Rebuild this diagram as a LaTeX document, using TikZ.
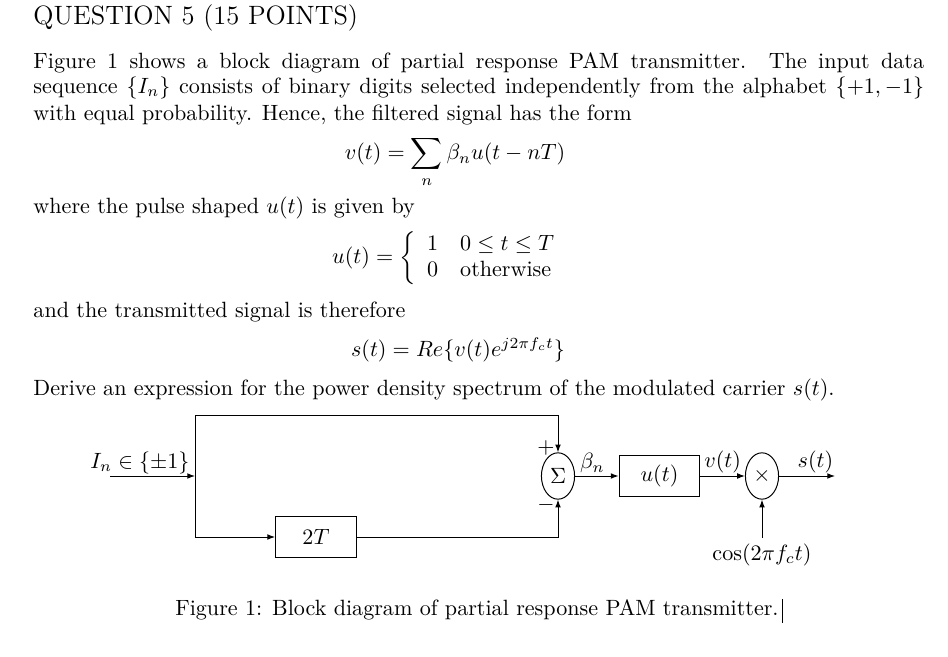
\documentclass[tikz,border=0pt]{standalone}
\usepackage{amsmath}
\usetikzlibrary{shapes.geometric,arrows.meta}
\begin{document}
\begin{tikzpicture}[x=0.4525pt,y=-0.4525pt,
  line width=0.45pt, >={Latex[length=3.5pt,width=2.6pt]},
  txt/.style={anchor=west,inner sep=0pt},
  blk/.style={draw,minimum width=36.6pt,minimum height=18.5pt,inner sep=0pt},
  op/.style={draw,ellipse,minimum width=15pt,minimum height=21pt,inner sep=0pt}]
\useasboundingbox (0,0) rectangle (948,657);
% text
\node[txt] (title) at (33,18) {\large QUESTION 5 (15 POINTS)};
\node[txt] (l1) at (33,63) {\makebox[403pt][s]{Figure 1 shows a block diagram of partial response PAM transmitter.\ \ The input data}};
\node[txt] (l2) at (33,88) {\makebox[403pt][s]{sequence $\{I_n\}$ consists of binary digits selected independently from the alphabet $\{+1,-1\}$}};
\node[txt] (l3) at (33,115) {with equal probability. Hence, the filtered signal has the form};
\node (e1) at (455,162) {$\displaystyle v(t)=\sum_n \beta_n u(t-nT)$};
\node[txt] (l4) at (33,208) {where the pulse shaped $u(t)$ is given by};
\node (e2) at (450,258) {$u(t)=\left\{\begin{array}{ll}1 & 0\le t\le T\\ 0 & \text{otherwise}\end{array}\right.$};
\node[txt] (l5) at (33,312) {and the transmitted signal is therefore};
\node (e3) at (458,350) {$s(t)=Re\{v(t)e^{j2\pi f_ct}\}$};
\node[txt] (l6) at (33,390) {Derive an expression for the power density spectrum of the modulated carrier $s(t)$.};
% diagram
\coordinate (in) at (110,476);
\coordinate (j) at (195,476);
\coordinate (tl) at (195,415);
\coordinate (tr) at (558,415);
\coordinate (bl) at (195,537);
\coordinate (br) at (558,537);
\node[op] (sum) at (558,476) {$\Sigma$};
\node[blk] (d) at (316,537) {$2T$};
\node[blk] (u) at (659.5,476) {$u(t)$};
\node[op] (mul) at (762,476) {$\times$};
\coordinate (out) at (835,476);
\coordinate (cs) at (762,538);
\node (inl) at (140,463) {$I_n\in\{\pm1\}$};
\draw[->] (in) -- (j);
\draw[->] (j) -- (tl) -- (tr) -- (sum.north);
\draw[->] (j) -- (bl) -- (d.west);
\draw[->] (d.east) -- (br) -- (sum.south);
\node (plus) at (546,448) {$+$};
\node (minus) at (546,505) {$-$};
\draw[->] (sum.east) -- node[above,inner sep=1pt,xshift=-2pt] {$\beta_n$} (u.west);
\draw[->] (u.east) -- node[above,inner sep=1pt] {$v(t)$} (mul.west);
\draw[->] (mul.east) -- node[above,inner sep=1pt,pos=0.65] {$s(t)$} (out);
\draw[->] (cs) -- (mul.south);
\node (cl) at (762,555) {$\cos(2\pi f_ct)$};
\node (cap) at (477,610) {Figure 1: Block diagram of partial response PAM transmitter.};
\draw ([xshift=-2pt]cap.east) ++(0,-11) -- ++(0,24);
\end{tikzpicture}
\end{document}
